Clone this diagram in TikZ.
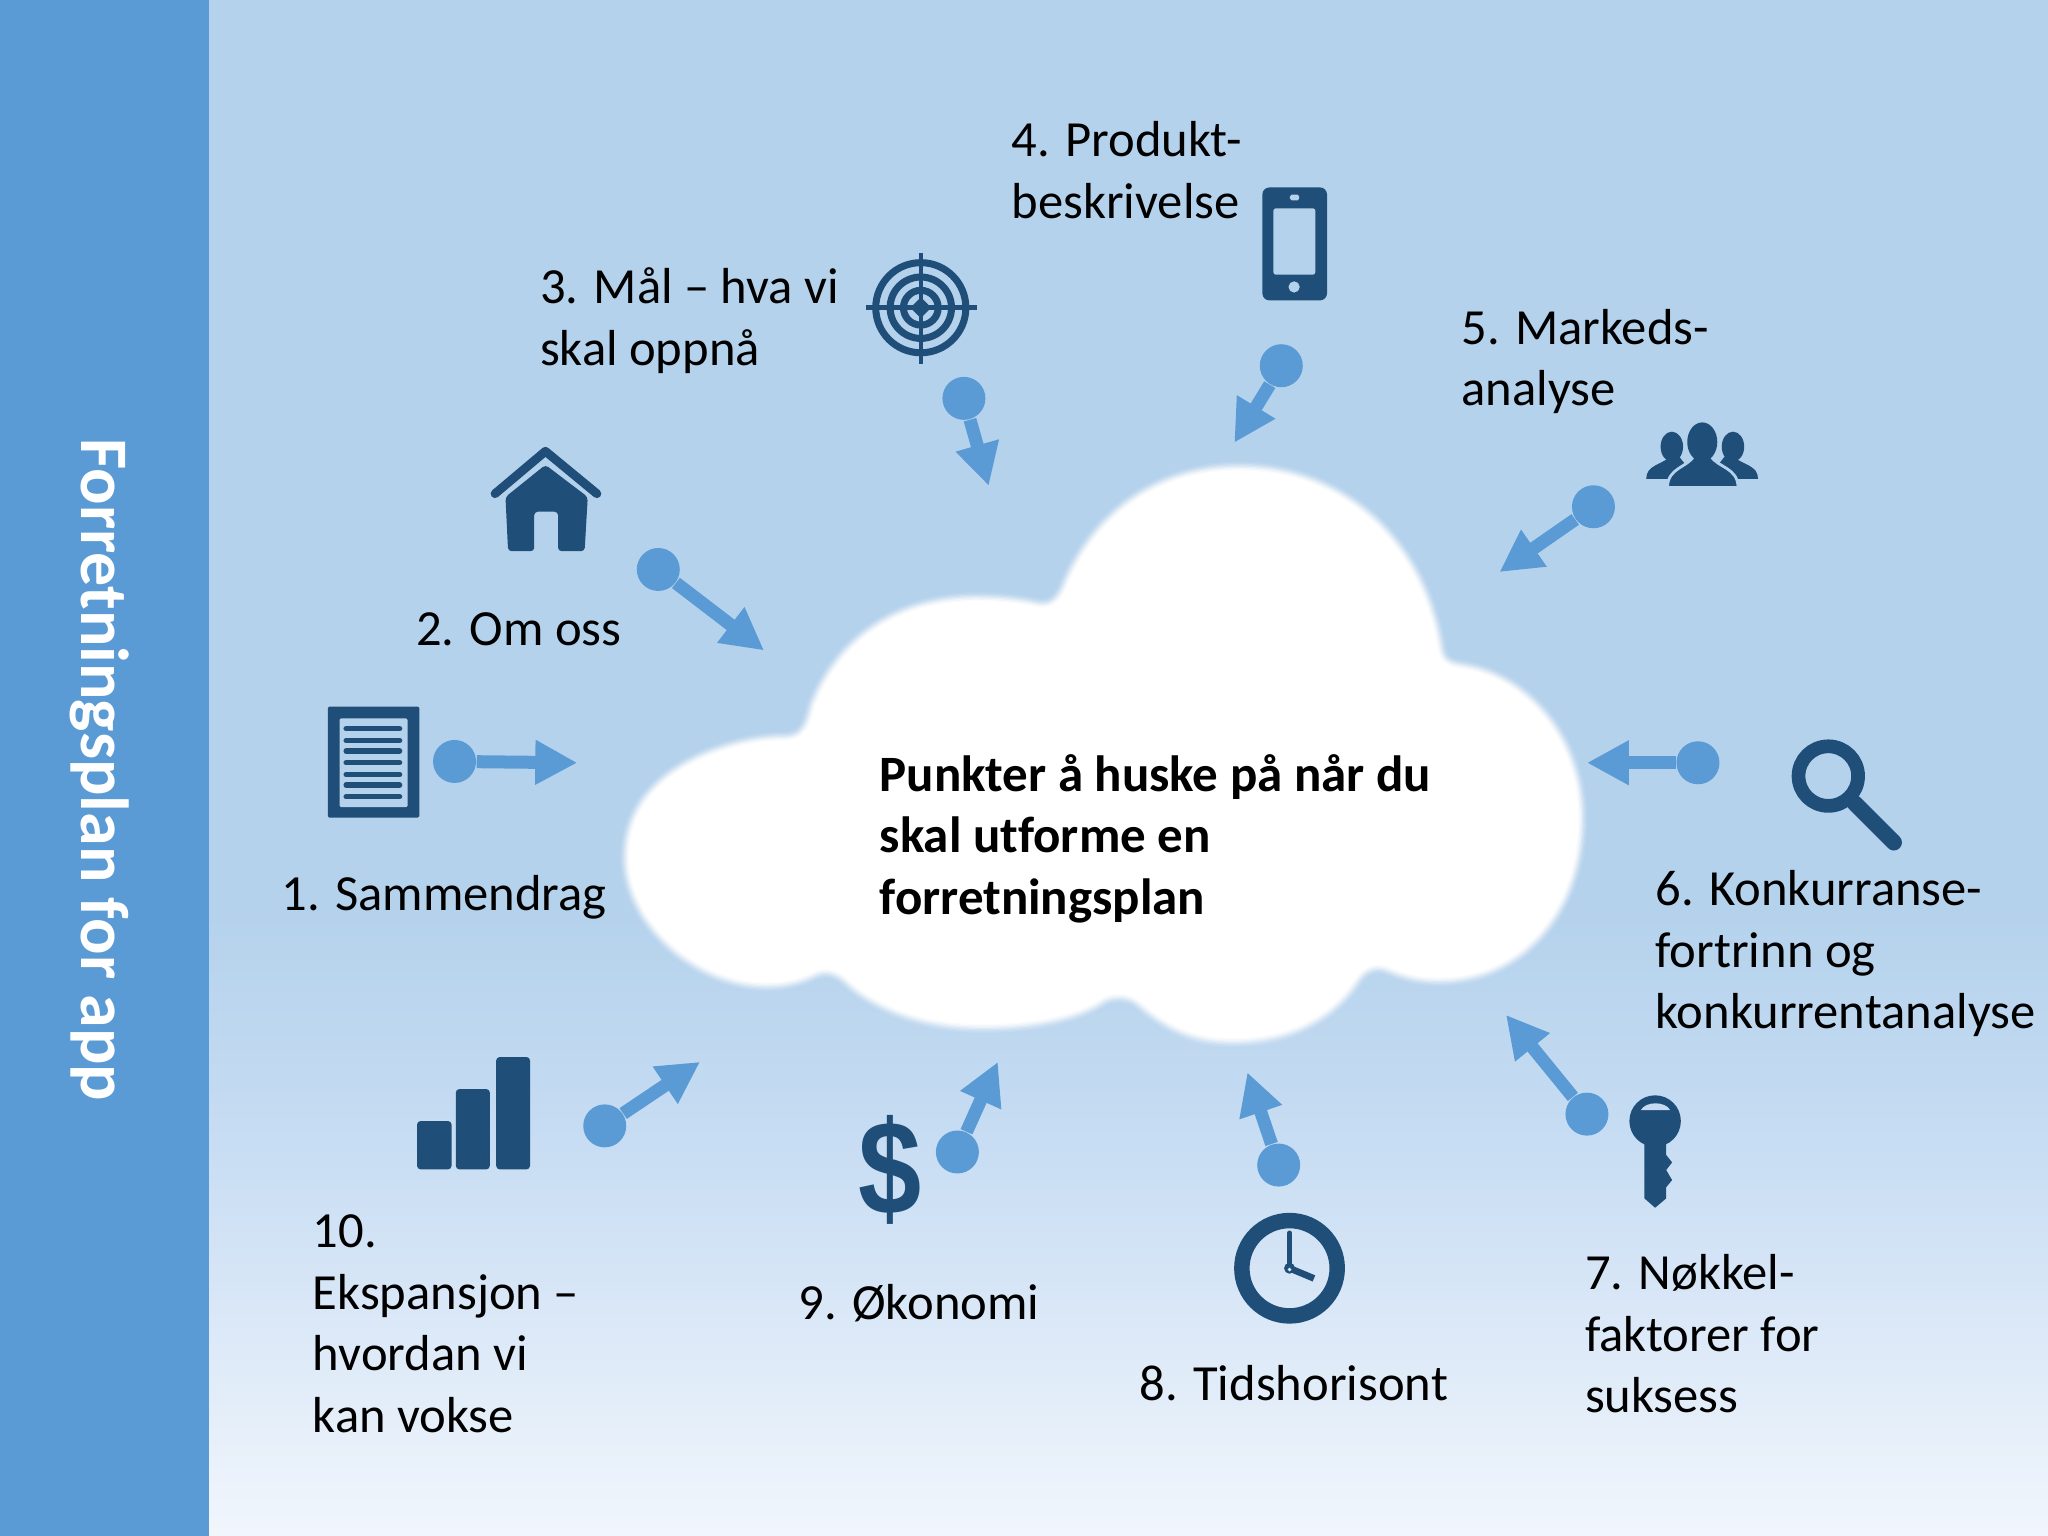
\documentclass[tikz,border=0pt]{standalone}
\usepackage{fontspec}
\setmainfont[Ligatures=NoCommon]{Carlito}
\newfontfamily\dollarfont{Liberation Sans}
\usepackage{xcolor}
\usetikzlibrary{arrows.meta}

\definecolor{barblue}{HTML}{5B9BD5}
\definecolor{iconblue}{HTML}{1F4E79}
\definecolor{skyblue}{HTML}{B5D2EC}
\definecolor{skymid}{HTML}{C4DBF2}
\definecolor{skylow}{HTML}{D9E7F7}
\definecolor{skyend}{HTML}{F1F6FC}
\pgfdeclareverticalshading{skyfade}{100bp}{
  color(0bp)=(skyend); color(25bp)=(skyend); color(32.5bp)=(skylow);
  color(38.9bp)=(skymid); color(45.2bp)=(skyblue); color(75bp)=(skyblue); color(100bp)=(skyblue)}

\tikzset{
  label text/.style={anchor=base west,align=left,inner sep=0pt,font=\fontsize{14.4}{17.5}\selectfont},
  dotnode/.style={circle,fill=barblue,inner sep=0pt,minimum size=4.3mm},
  link/.style={barblue,line width=3.7pt,-{Triangle[length=4.2mm,width=4.2mm]}}
}
\newcommand{\cloudpath}{(597,567) .. controls (570,566) and (478,585) .. (478,657)
  .. controls (478,720) and (560,775) .. (620,746) .. controls (630,741) and (640,744) .. (648,752)
  .. controls (670,772) and (705,785) .. (745,786) .. controls (785,787) and (822,780) .. (842,767)
  .. controls (850,761) and (866,761) .. (874,769) .. controls (895,787) and (915,797) .. (945,797)
  .. controls (990,797) and (1022,778) .. (1040,750) .. controls (1046,741) and (1056,738) .. (1066,742)
  .. controls (1080,748) and (1092,750) .. (1105,750) .. controls (1165,750) and (1212,700) .. (1212,627)
  .. controls (1212,565) and (1170,520) .. (1125,512) .. controls (1112,510) and (1105,508) .. (1103,495)
  .. controls (1090,415) and (1030,358) .. (950,358) .. controls (885,358) and (840,395) .. (818,445)
  .. controls (812,460) and (805,467) .. (790,463) .. controls (775,460) and (760,459) .. (745,459)
  .. controls (680,460) and (640,495) .. (622,540) .. controls (618,555) and (615,567) .. (597,567) -- cycle}

\begin{document}
\begin{tikzpicture}[x=0.0130612cm,y=-0.0130612cm]
  \useasboundingbox (0,0) rectangle (1568,1176);
  \shade[shading=skyfade] (0,0) rectangle (1568,1176);
  \fill[barblue] (0,0) rectangle (160,1176);
  \node[rotate=-90,anchor=base west,inner sep=0pt,white,font=\fontsize{19.35}{23}\selectfont\bfseries] (title) at (62.7,335) {Forretningsplan for app};

  \begin{scope}[scale around={.99:(845,578)},line join=round]
    \foreach \w/\o in {5.2/.08,4.44/.12,3.7/.18,2.96/.25,2.2/.35,1.48/.45,.74/.6}
      \draw[white,opacity=\o,line width=\w pt] \cloudpath;
    \fill[white] \cloudpath;
  \end{scope}
  \node[label text,font=\fontsize{14.5}{17.5}\selectfont\bfseries] (cloudtext) at (673,700) {Punkter å huske på når du\\skal utforme en\\forretningsplan};

  \node[label text] (t1) at (215,697) {1. Sammendrag};
  \node[label text] (t2) at (318,494) {2. Om oss};
  \node[label text] (t3) at (413,279.5) {3. Mål – hva vi\\skal oppnå};
  \node[label text] (t4) at (774,167) {4. Produkt-\\beskrivelse};
  \node[label text] (t5) at (1118.5,310.5) {5. Markeds-\\analyse};
  \node[label text] (t6) at (1267,787.5) {6. Konkurranse-\\fortrinn og\\konkurrentanalyse};
  \node[label text] (t7) at (1213,1081.5) {7. Nøkkel-\\faktorer for\\suksess};
  \node[label text] (t8) at (872,1072) {8. Tidshorisont};
  \node[label text] (t9) at (611,1010) {9. Økonomi};
  \node[label text] (t10) at (239,1096.5) {10.\\Ekspansjon –\\hvordan vi\\kan vokse};

  \node[dotnode] (d1) at (348,583) {};
  \node[dotnode] (d2) at (504,436) {};
  \node[dotnode] (d3) at (738,305) {};
  \node[dotnode] (d4) at (981,280) {};
  \node[dotnode] (d5) at (1220,388) {};
  \node[dotnode] (d6) at (1300,584) {};
  \node[dotnode] (d7) at (1215,853) {};
  \node[dotnode] (d8) at (979,892) {};
  \node[dotnode] (d9) at (733,882) {};
  \node[dotnode] (d10) at (463,862) {};
  \coordinate (e1) at (442,584);
  \coordinate (e2) at (585,498);
  \coordinate (e3) at (757,372);
  \coordinate (e4) at (945,339);
  \coordinate (e5) at (1148,438);
  \coordinate (e6) at (1215,584);
  \coordinate (e7) at (1153,777);
  \coordinate (e8) at (955,821);
  \coordinate (e9) at (764,813);
  \coordinate (e10) at (536,813);
  \draw[link] (d1) -- (e1);
  \draw[link] (d2) -- (e2);
  \draw[link] (d3) -- (e3);
  \draw[link] (d4) -- (e4);
  \draw[link] (d5) -- (e5);
  \draw[link] (d6) -- (e6);
  \draw[link] (d7) -- (e7);
  \draw[link] (d8) -- (e8);
  \draw[link] (d9) -- (e9);
  \draw[link] (d10) -- (e10);

  \fill[iconblue,rounded corners=.4pt] (251,541) rectangle (321,626);
  \fill[skyblue,rounded corners=.4pt] (260,550) rectangle (312,618);
  \draw[iconblue,line width=1.5pt,line cap=round] (265,558) -- (306,558) (265,567) -- (306,567) (265,575) -- (306,575)
    (265,584) -- (306,584) (265,593) -- (306,593) (265,601) -- (306,601) (265,610) -- (306,610);

  \draw[iconblue,line width=2.5pt,line cap=round,line join=round] (379,378) -- (417.6,345.5) -- (457,378);
  \fill[iconblue,rounded corners=1pt] (417.6,355.9) -- (387,380.5) -- (389,422) -- (409,422) -- (409,391.8) -- (427.3,391.8) -- (427.3,422) -- (447.6,422) -- (450,380.5) -- cycle;

  \draw[iconblue,line width=2pt] (705,235.6) circle (34.5);
  \draw[iconblue,line width=2pt] (705,235.6) circle (23.5);
  \draw[iconblue,line width=2pt] (705,235.6) circle (13.3);
  \draw[iconblue,line width=1.3pt] (663,235.6) -- (748,235.6) (705,193.5) -- (705,279);
  \fill[iconblue] (705,227.6) -- (713,235.6) -- (705,243.6) -- (697,235.6) -- cycle;

  \fill[iconblue,rounded corners=2pt] (966.5,143.5) rectangle (1016,230);
  \fill[skyblue,rounded corners=.6pt] (975,159.6) rectangle (1007,210.2);
  \fill[skyblue,rounded corners=.5pt] (987.6,149) rectangle (994.7,153.4);
  \fill[skyblue] (990.8,219.7) circle (4.3);

  \fill[iconblue] (1280,342) ellipse (8.6 and 11.5);
  \fill[iconblue] (1326.8,342) ellipse (8.6 and 11.5);
  \fill[iconblue] (1260.4,366.6) .. controls (1260.4,356) and (1272,356) .. (1278,350) -- (1286,350) .. controls (1290,356) and (1296,360) .. (1296,366.6) -- cycle;
  \fill[iconblue] (1346,366.6) .. controls (1346,356) and (1334,356) .. (1328,350) -- (1320,350) .. controls (1316,356) and (1310,360) .. (1310,366.6) -- cycle;
  \filldraw[iconblue,draw=skyblue,line width=.8pt] (1276.7,373.2) .. controls (1276.7,358) and (1292,358) .. (1297,349) -- (1309.6,349) .. controls (1315,358) and (1330.7,358) .. (1330.7,373.2) -- cycle;
  \fill[iconblue] (1303.3,338.4) ellipse (11.5 and 15);

  \draw[iconblue,line width=3.9pt] (1399.8,594.2) circle (22.8);
  \draw[iconblue,line width=4.6pt,line cap=round] (1420,615) -- (1450,645);

  \fill[iconblue,rounded corners=1pt] (319.3,858.3) rectangle (345.7,895.3);
  \fill[iconblue,rounded corners=1pt] (349,833.8) rectangle (375,895.3);
  \fill[iconblue,rounded corners=1pt] (379.9,809.3) rectangle (405.8,895.3);

  \node[inner sep=0pt,iconblue,font=\fontsize{38}{38}\selectfont\dollarfont\bfseries,xscale=.85,transform shape] (dollar) at (681.6,896) {\$};

  \draw[iconblue,line width=4.4pt] (987.3,971) circle (36.5);
  \draw[iconblue,line width=1.4pt,line cap=round] (987.3,971) -- (987.3,944);
  \draw[iconblue,line width=1.9pt] (987.3,971) -- (1006,978.8);
  \fill[iconblue] (987.3,971) circle (4.2);
  \fill[skylow] (987.3,972) circle (1.5);

  \fill[iconblue] (1267.2,858.3) circle (19.7);
  \fill[iconblue] (1259,870) -- (1275.7,870) -- (1275.7,884.3) -- (1280.2,890) -- (1275.7,895.8) -- (1280.2,903.5) -- (1275.7,909) -- (1275.7,917.5) -- (1267.2,924.7) -- (1259,917.5) -- cycle;
  \fill[skymid] (1256.3,849.9) .. controls (1260,843) and (1275,843) .. (1278.7,849.9) -- cycle;
\end{tikzpicture}
\end{document}
